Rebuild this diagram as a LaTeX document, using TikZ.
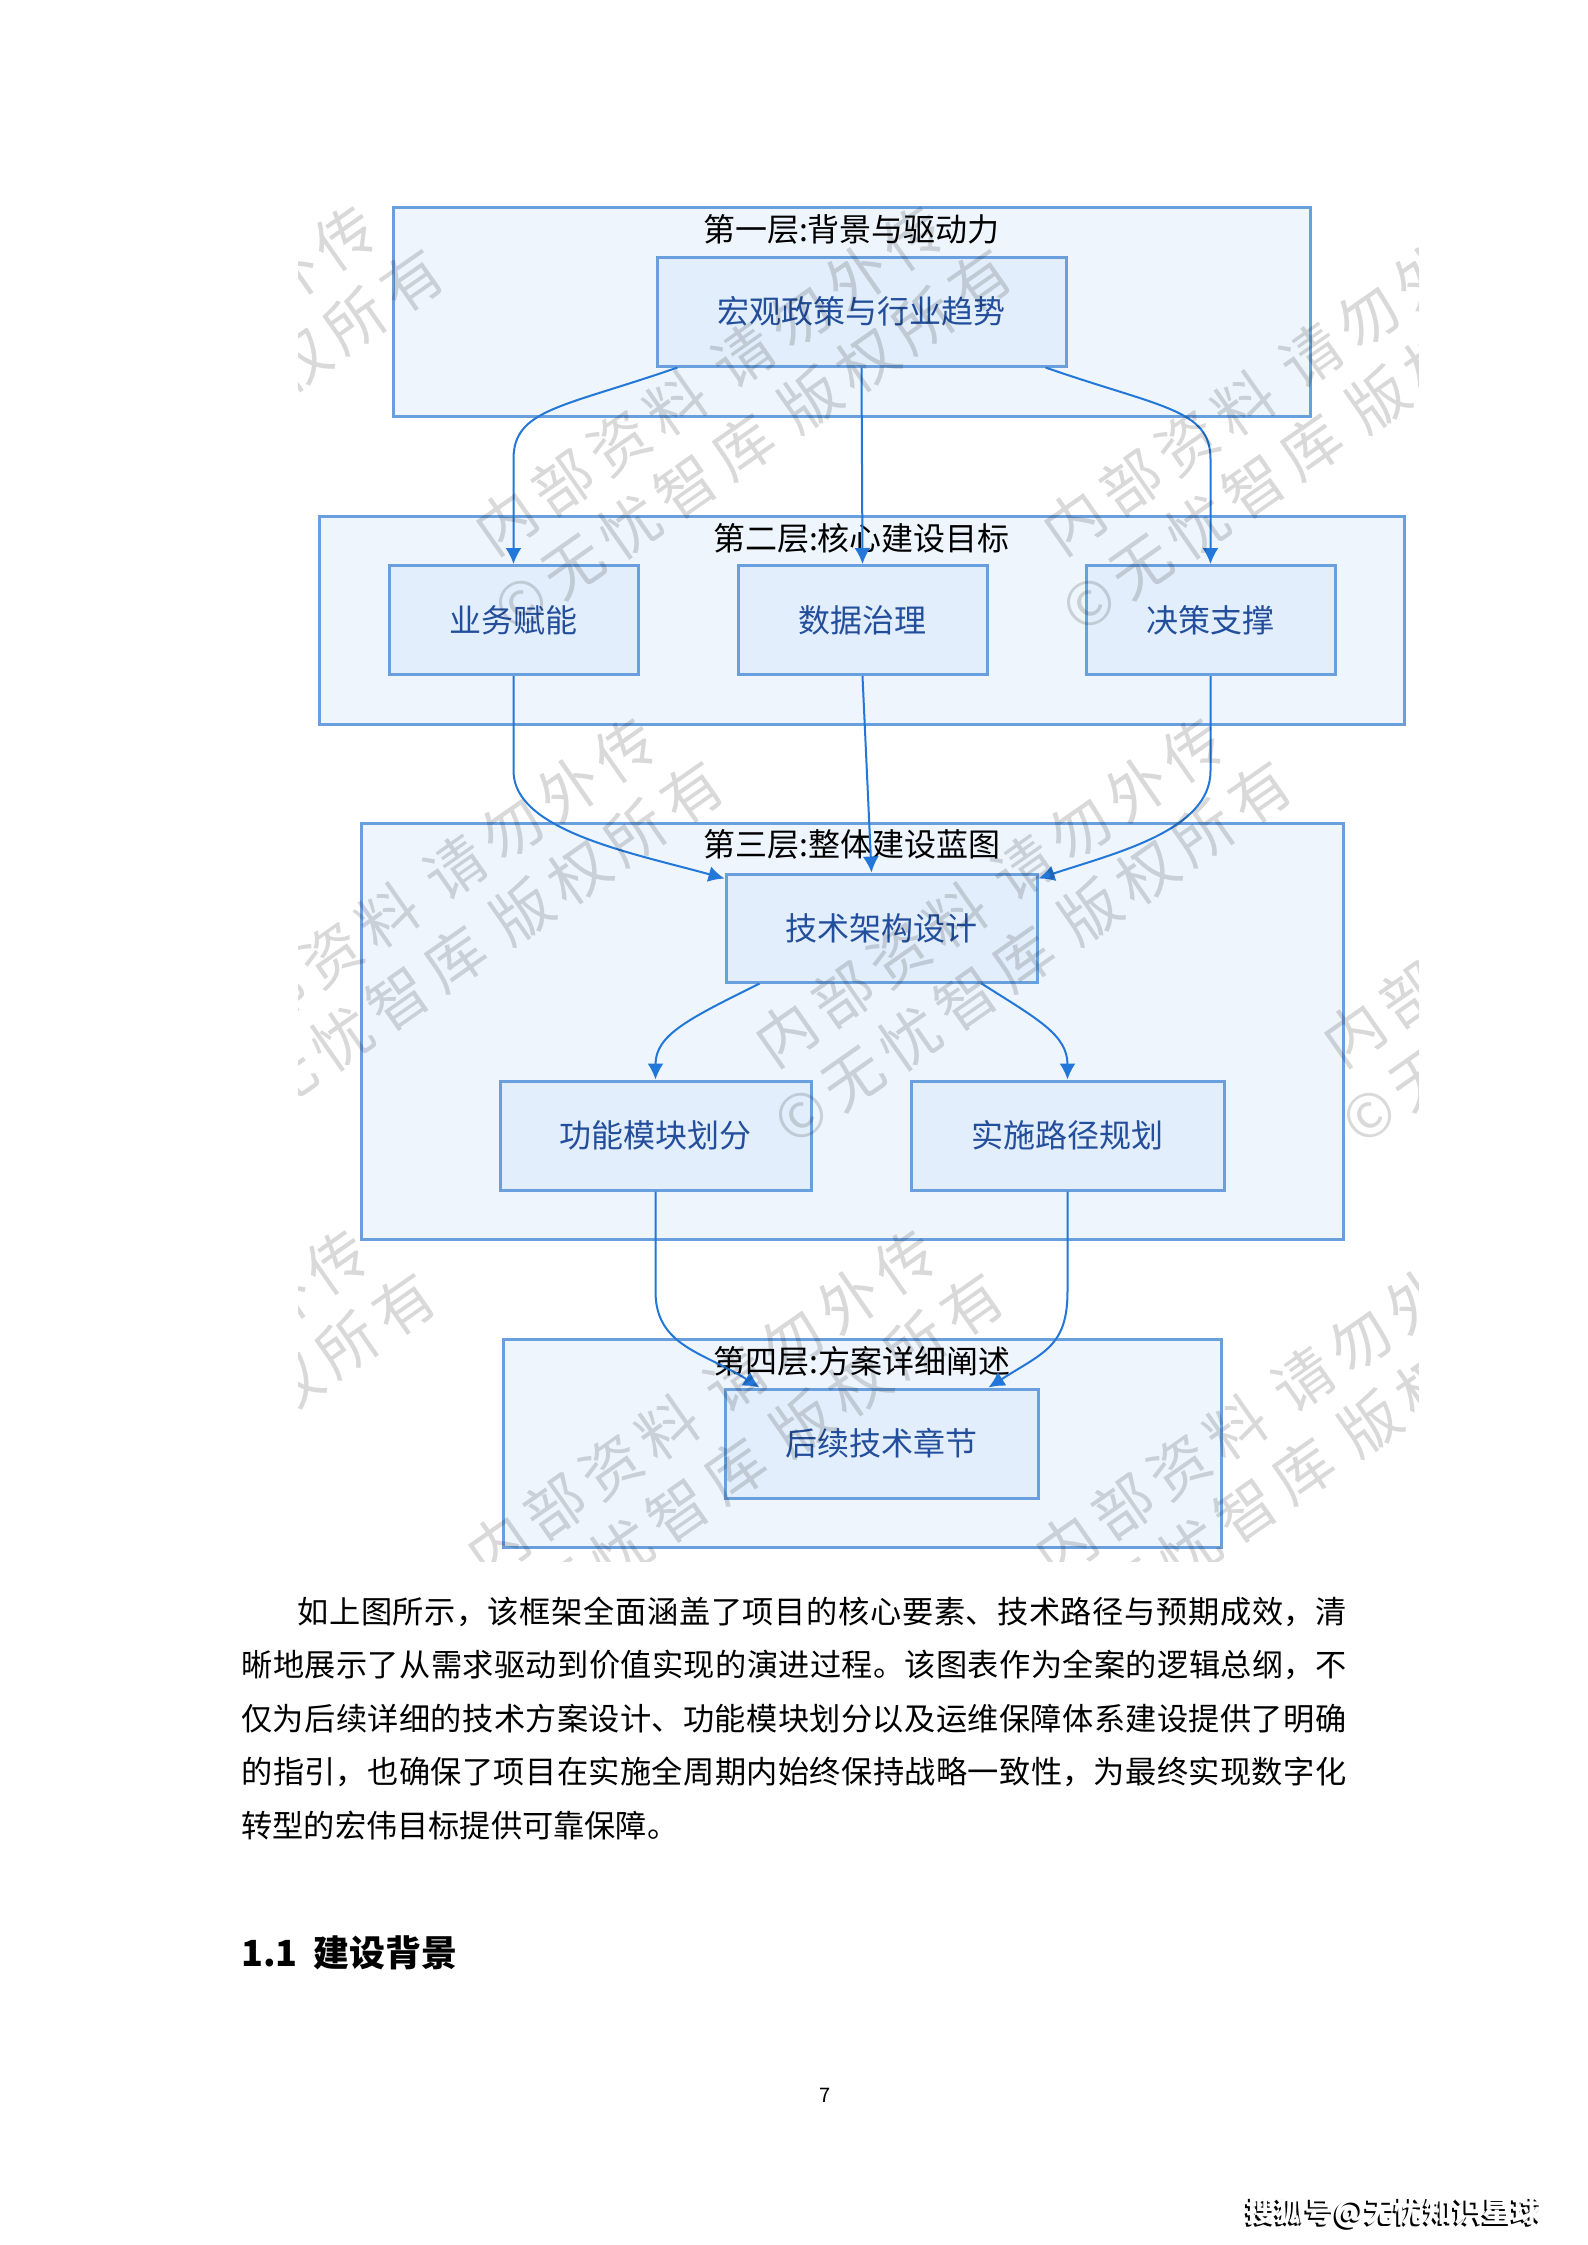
\documentclass[tikz,border=0pt]{standalone}
\usepackage{fontspec}
\setmainfont{Noto Sans CJK SC}
\usepackage{xcolor}
\usetikzlibrary{arrows.meta,positioning}
\XeTeXlinebreaklocale "zh"
\XeTeXlinebreakskip=0pt plus 1pt

\definecolor{layerfill}{HTML}{EEF5FD}
\definecolor{boxfill}{HTML}{E2EEFB}
\definecolor{edgeblue}{HTML}{6A9FDE}
\definecolor{arrowblue}{HTML}{2277D8}
\definecolor{textblue}{HTML}{234E9C}

\begin{document}
\begin{tikzpicture}[x=0.5pt, y=-0.5pt,
  layer/.style={rectangle, draw=edgeblue, fill=layerfill, line width=1.5pt, inner sep=0pt},
  module/.style={rectangle, draw=edgeblue, fill=boxfill, line width=1.5pt, minimum width=155.5pt, minimum height=54.5pt, text=textblue, font=\fontsize{16}{19}\selectfont},
  title/.style={font=\fontsize{16}{19}\selectfont, text=black, inner sep=0pt},
  arrow/.style={-{Latex[length=8pt,width=8pt]}, draw=arrowblue, line width=1pt},
  wmark/.style={rotate=35, align=center, text=black, text opacity=0.15, inner sep=0pt,
    font=\fontsize{30}{37}\selectfont\addfontfeature{LetterSpace=15}}
]
\useasboundingbox[fill=white] (0,0) rectangle (1587,2245);

% layers
\node[layer, minimum width=458.5pt, minimum height=104.5pt] (lay1) at (851.5,311.5) {};
\node[title] (lay1t) at ([yshift=-12pt]lay1.north) {第一层:背景与驱动力};
\node[layer, minimum width=542.5pt, minimum height=104pt] (lay2) at (861.5,620) {};
\node[title] (lay2t) at ([yshift=-12pt]lay2.north) {第二层:核心建设目标};
\node[layer, minimum width=491pt, minimum height=208pt] (lay3) at (852,1031) {};
\node[title] (lay3t) at ([yshift=-11.5pt]lay3.north) {第三层:整体建设蓝图};
\node[layer, minimum width=359pt, minimum height=104pt] (lay4) at (862,1443) {};
\node[title] (lay4t) at ([yshift=-12pt]lay4.north) {第四层:方案详细阐述};

% modules
\node[module, minimum width=204.5pt] (macro) at (861.5,311.5) {宏观政策与行业趋势};

\node[module, minimum width=124.5pt] (yewu) at (513.5,620) {业务赋能};
\node[module, minimum width=124.5pt] (shuju) [right=48.5pt of yewu] {数据治理};
\node[module, minimum width=124.5pt] (juece) [right=48pt of shuju] {决策支撑};

\node[module, minimum height=54pt] (arch) at (881.5,928) {技术架构设计};
\node[module] (func) at (655.5,1135.5) {功能模块划分};
\node[module, minimum width=156.5pt] (plan) [right=48.5pt of func] {实施路径规划};

\node[module, minimum width=156.5pt] (follow) at (881.5,1443.5) {后续技术章节};

% connectors
\draw[arrow] ([xshift=11pt]macro.south west) .. controls +(-115,40) and +(0,-50) .. ([yshift=52.5pt]yewu.north) -- (yewu.north);
\draw[arrow] (macro.south) -- (shuju.north);
\draw[arrow] ([xshift=-11pt]macro.south east) .. controls +(115,40) and +(0,-50) .. ([yshift=52.5pt]juece.north) -- (juece.north);

\draw[arrow] (yewu.south) -- ++(0,95) .. controls +(0,60) and +(-90,-25) .. ([yshift=-3pt]arch.north west);
\draw[arrow] (shuju.south) -- ([xshift=-5pt]arch.north);
\draw[arrow] (juece.south) -- ++(0,95) .. controls +(0,60) and +(75,-25) .. ([yshift=-3pt]arch.north east);

\draw[arrow] ([xshift=17.5pt]arch.south west) .. controls +(-70,35) and +(0,-45) .. (func.north);
\draw[arrow] ([xshift=-28.5pt]arch.south east) .. controls +(55,35) and +(0,-45) .. (plan.north);

\draw[arrow] (func.south) -- ++(0,100) .. controls +(0,55) and +(-55,-35) .. ([xshift=18pt]follow.north west);
\draw[arrow] (plan.south) -- ++(0,100) .. controls +(0,55) and +(55,-35) .. ([xshift=-25.5pt]follow.north east);

% watermark over the figure
\begin{scope}
\clip (298,193) rectangle (1418,1561);
\foreach \i/\j in {-1/0,0/0,1/0,0/1,1/1,2/1,0/2,1/2,2/2}{
  \node[wmark] (wm-\i-\j) at ({731+568*\i-288*\j},{410+512*\j}) {内部资料 请勿外传\\©无忧智库 版权所有};
}
\end{scope}

% page text
\node[anchor=base west, inner sep=0pt, text width=552.5pt, align=justify,
  font=\fontsize{15.6}{26.75}\selectfont] (para) at (241,1623) {%
\hspace*{28pt}如上图所示，该框架全面涵盖了项目的核心要素、技术路径与预期成效，清\linebreak
晰地展示了从需求驱动到价值实现的演进过程。该图表作为全案的逻辑总纲，不\linebreak
仅为后续详细的技术方案设计、功能模块划分以及运维保障体系建设提供了明确\linebreak
的指引，也确保了项目在实施全周期内始终保持战略一致性，为最终实现数字化\linebreak
转型的宏伟目标提供可靠保障。};
\node[anchor=base west, inner sep=0pt, font=\fontsize{18}{22}\selectfont\bfseries] (sect) at (241,1966) {1.1\hspace{8pt}建设背景};
\node[inner sep=0pt, font=\fontsize{10}{12}\selectfont] (pageno) at (825,2095) {7};

% source mark
\node[inner sep=0pt, text=black, font=\fontsize{14.7}{18}\selectfont\bfseries] (srcshadow) at (1392,2215) {搜狐号@无忧知识星球};
\node[inner sep=0pt, text=white, font=\fontsize{14.7}{18}\selectfont\bfseries] (src) at (1394,2213) {搜狐号@无忧知识星球};
\end{tikzpicture}
\end{document}
